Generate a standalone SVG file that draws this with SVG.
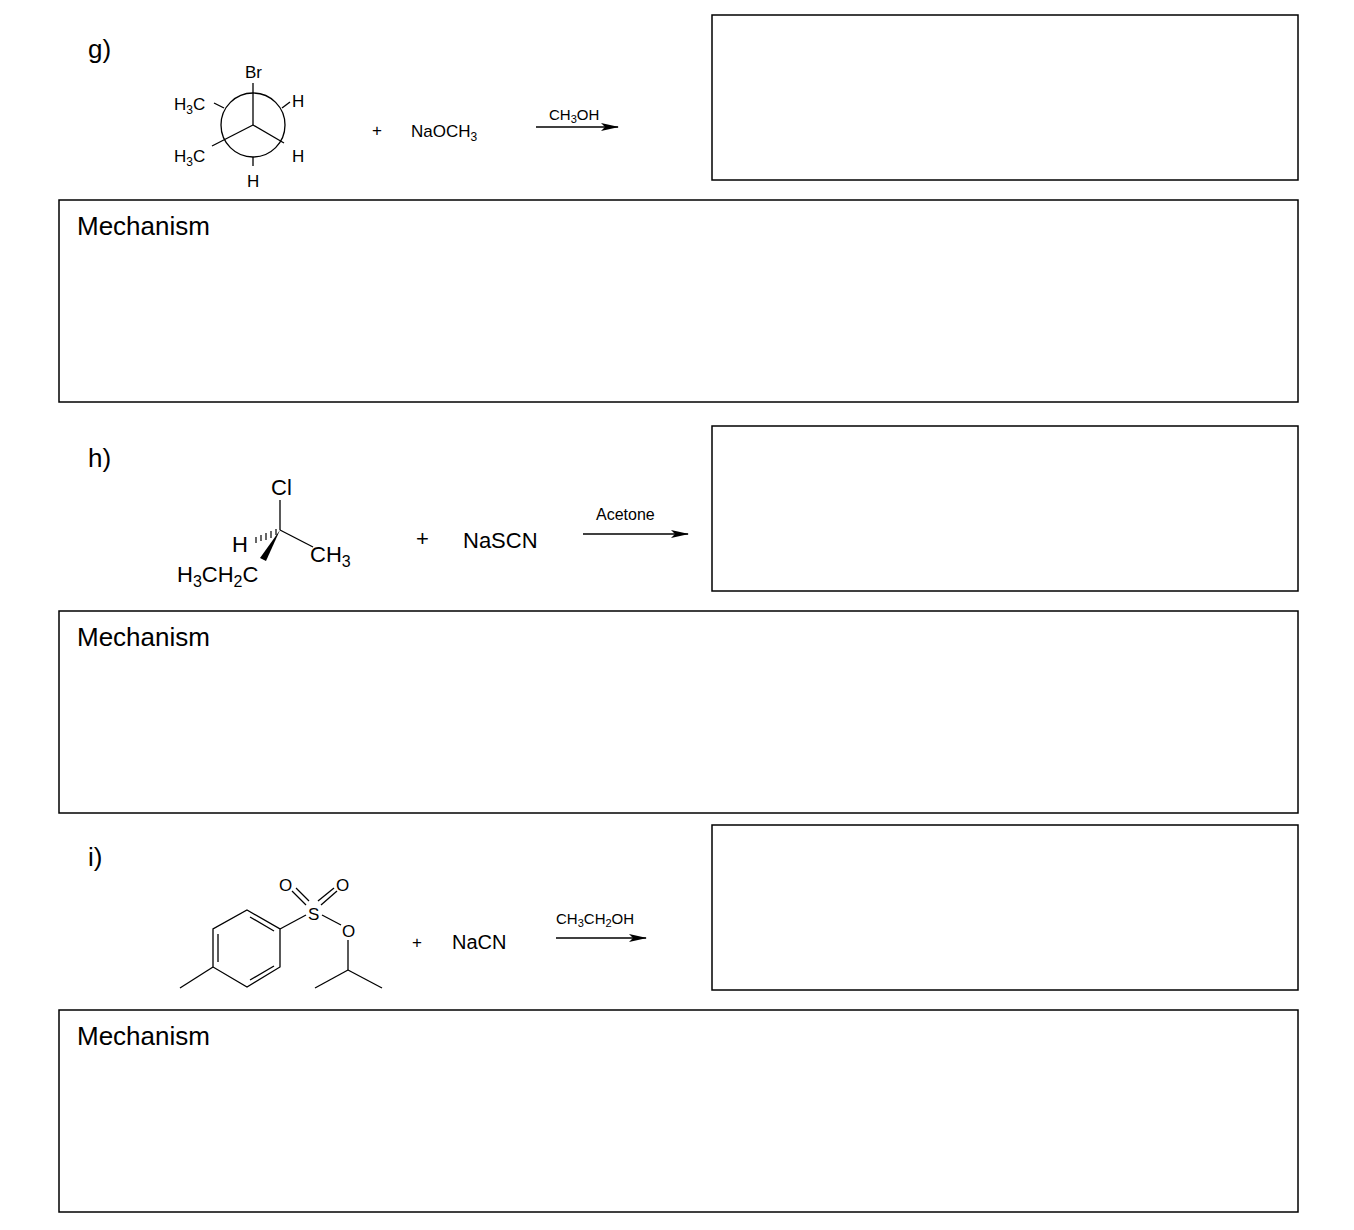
<svg xmlns="http://www.w3.org/2000/svg" width="1354" height="1230" viewBox="0 0 1354 1230">
<style>
.box{fill:none;stroke:#000;stroke-width:1.5}
.b{stroke:#000;stroke-width:1.3;fill:none}
text{font-family:"Liberation Sans",Arial,sans-serif;fill:#000}
.lab{font-size:26px}
.mech{font-size:26px}
.a{font-size:17px}
.r{font-size:22px}
.s{font-size:15px}
</style>
<defs><marker id="ah" markerWidth="18" markerHeight="8" refX="17" refY="4" orient="auto" markerUnits="userSpaceOnUse"><path d="M0,0 L18,4 L0,8 L4,4 Z" fill="#000"/></marker></defs>
<rect width="1354" height="1230" fill="#fff"/>
<g id="boxes">
<rect class="box" x="712" y="15" width="586" height="165"/>
<rect class="box" x="59" y="200" width="1239" height="202"/>
<rect class="box" x="712" y="426" width="586" height="165"/>
<rect class="box" x="59" y="611" width="1239" height="202"/>
<rect class="box" x="712" y="825" width="586" height="165"/>
<rect class="box" x="59" y="1010" width="1239" height="202"/>
<text class="mech" x="77" y="235">Mechanism</text>
<text class="mech" x="77" y="646">Mechanism</text>
<text class="mech" x="77" y="1045">Mechanism</text>
<text class="lab" x="88" y="58">g)</text>
<text class="lab" x="88" y="467">h)</text>
<text class="lab" x="88" y="866">i)</text>
</g>
<g id="g-newman">
<circle class="b" cx="253" cy="125" r="32"/>
<line class="b" x1="253" y1="125" x2="253" y2="83"/>
<line class="b" x1="253" y1="125" x2="212" y2="146"/>
<line class="b" x1="253" y1="125" x2="284" y2="143"/>
<line class="b" x1="224" y1="108" x2="214" y2="103"/>
<line class="b" x1="282" y1="108" x2="290" y2="102"/>
<line class="b" x1="253" y1="157" x2="253" y2="166"/>
<text class="a" x="245" y="78">Br</text>
<text class="a" x="174" y="110">H<tspan font-size="12" dy="4">3</tspan><tspan dy="-4">C</tspan></text>
<text class="a" x="174" y="162">H<tspan font-size="12" dy="4">3</tspan><tspan dy="-4">C</tspan></text>
<text class="a" x="292" y="107">H</text>
<text class="a" x="292" y="162">H</text>
<text class="a" x="247" y="187">H</text>
<text class="a" x="372" y="136">+</text>
<text class="a" x="411" y="137">NaOCH<tspan font-size="12" dy="4">3</tspan></text>
<text class="s" x="549" y="120">CH<tspan font-size="11" dy="3">3</tspan><tspan dy="-3">OH</tspan></text>
<line class="b" x1="536" y1="127" x2="618" y2="127" marker-end="url(#ah)"/>
</g>
<g id="h-chiral">
<line class="b" x1="280" y1="530" x2="280" y2="500"/>
<line class="b" x1="280" y1="530" x2="313" y2="547"/>
<polygon points="280,530 260,558 266,561" fill="#000"/>
<g stroke="#000" stroke-width="1.2">
<line x1="276" y1="529" x2="276" y2="535"/><line x1="271" y1="531" x2="271" y2="538"/>
<line x1="266" y1="533" x2="266" y2="540"/><line x1="261" y1="535" x2="261" y2="541"/>
<line x1="256" y1="537" x2="256" y2="543"/></g>
<text class="r" x="271" y="495">Cl</text>
<text class="r" x="232" y="552">H</text>
<text class="r" x="310" y="562">CH<tspan font-size="16" dy="5">3</tspan></text>
<text class="r" x="177" y="582">H<tspan font-size="16" dy="5">3</tspan><tspan dy="-5">CH</tspan><tspan font-size="16" dy="5">2</tspan><tspan dy="-5">C</tspan></text>
<text class="r" x="416" y="546">+</text>
<text class="r" x="463" y="548">NaSCN</text>
<text x="596" y="520" font-size="16">Acetone</text>
<line class="b" x1="583" y1="534" x2="688" y2="534" marker-end="url(#ah)"/>
</g>
<g id="i-tosylate">
<polygon class="b" points="247,910 280,929 280,967 247,987 213,967 213,929"/>
<line class="b" x1="218" y1="934" x2="218" y2="962"/>
<line class="b" x1="250" y1="917" x2="274" y2="931"/>
<line class="b" x1="250" y1="980" x2="274" y2="966"/>
<line class="b" x1="213" y1="967" x2="180" y2="988"/>
<line class="b" x1="280" y1="929" x2="306" y2="915"/>
<line class="b" x1="322" y1="915" x2="341" y2="925"/>
<line class="b" x1="348" y1="940" x2="348" y2="970"/>
<line class="b" x1="348" y1="970" x2="315" y2="988"/>
<line class="b" x1="348" y1="970" x2="382" y2="988"/>
<line class="b" x1="292" y1="891" x2="306" y2="905"/>
<line class="b" x1="296" y1="888" x2="309" y2="901"/>
<line class="b" x1="337" y1="891" x2="321" y2="905"/>
<line class="b" x1="334" y1="888" x2="318" y2="901"/>
<text class="a" x="308" y="920">S</text>
<text class="a" x="279" y="891">O</text>
<text class="a" x="336" y="891">O</text>
<text class="a" x="342" y="937">O</text>
<text class="a" x="412" y="948">+</text>
<text x="452" y="949" font-size="20">NaCN</text>
<text class="s" x="556" y="924">CH<tspan font-size="11" dy="3">3</tspan><tspan dy="-3">CH</tspan><tspan font-size="11" dy="3">2</tspan><tspan dy="-3">OH</tspan></text>
<line class="b" x1="556" y1="938" x2="646" y2="938" marker-end="url(#ah)"/>
</g>
</svg>
